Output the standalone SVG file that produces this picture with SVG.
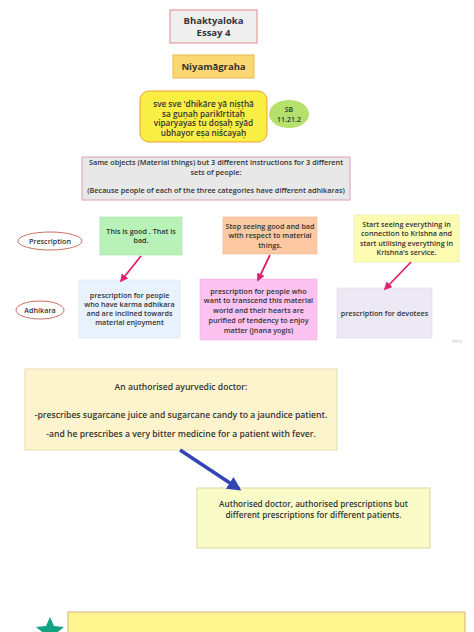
<svg xmlns="http://www.w3.org/2000/svg" width="474" height="632" viewBox="0 0 474 632">
<style>
text{font-family:"Open Sans","Liberation Sans",sans-serif;fill:#333;font-weight:600;text-anchor:middle}
.t9{font-size:9.5px;font-weight:700}
.tv{font-size:8.2px}
.td{font-size:8.6px}
.ta{font-size:8.2px}
.t7{font-size:7px}
.t65{font-size:7.2px}
.ts{font-size:7.3px}
</style>
<defs>
<marker id="pk" viewBox="0 0 10 10" refX="8" refY="5" markerWidth="4.5" markerHeight="4.5" orient="auto"><path d="M0,0L10,5L0,10z" fill="#e0206e"/></marker>
<marker id="bl" viewBox="0 0 10 10" refX="8" refY="5" markerWidth="4" markerHeight="4.5" orient="auto"><path d="M0,0L10,5L0,10z" fill="#3544b5"/></marker>
</defs>
<rect width="474" height="632" fill="#fff"/>
<g id="title"><rect x="170" y="10" width="87" height="33" fill="#efefef" stroke="#e08a8a"/>
<text class="t9" x="213.5" y="24">Bhaktyaloka</text><text class="t9" x="213.5" y="36">Essay 4</text></g>
<g id="niyamagraha"><rect x="173" y="55" width="81" height="23" fill="#fad770" stroke="#e8b850"/>
<text class="t9" x="213.5" y="70">Niyamāgraha</text></g>
<g id="verse"><rect x="140" y="91" width="127" height="51" rx="9" fill="#f8ee44" stroke="#f0a030"/>
<text class="tv" x="203.5" y="107">sve sve 'dhikāre yā niṣṭhā</text>
<text class="tv" x="203.5" y="116.5">sa guṇaḥ parikīrtitaḥ</text>
<text class="tv" x="203.5" y="126">viparyayas tu doṣaḥ syād</text>
<text class="tv" x="203.5" y="135.5">ubhayor eṣa niścayaḥ</text></g>
<g id="sb"><ellipse cx="289" cy="114" rx="20" ry="14" fill="#b6e06c"/>
<text class="t7" x="289" y="112">SB</text><text class="t7" x="289" y="121.5">11.21.2</text></g>
<g id="same"><rect x="82" y="157" width="268" height="43" fill="#e8e8e8" stroke="#d8a0bc"/>
<text class="ts" x="216" y="164.5">Same objects (Material things) but 3 different instructions for 3 different</text>
<text class="ts" x="216" y="174.5">sets of people:</text>
<text class="ts" x="216" y="192.5">(Because people of each of the three categories have  different adhikaras)</text></g>
<g id="prescription"><ellipse cx="50" cy="241" rx="32" ry="9" fill="#fff" stroke="#c87060"/>
<text class="t65" x="50" y="243.5">Prescription</text></g>
<g id="good"><rect x="100" y="217" width="82" height="38" fill="#b8f2b8" stroke="#a0dca0" stroke-width="0.6"/>
<text class="t65" x="141" y="233.5">This is good . That is</text><text class="t65" x="141" y="243">bad.</text></g>
<g id="stop"><rect x="223" y="217" width="94" height="37" fill="#fcc9a2" stroke="#ecb590" stroke-width="0.6"/>
<text class="t65" x="270" y="228.5">Stop seeing good and bad</text><text class="t65" x="270" y="238">with respect to material</text><text class="t65" x="270" y="247.5">things.</text></g>
<g id="start"><rect x="354" y="215" width="105" height="47" fill="#fcfcb2" stroke="#e8e8a0" stroke-width="0.6"/>
<text class="t65" x="406.5" y="226.5">Start seeing everything in</text><text class="t65" x="406.5" y="236">connection to Krishna and</text><text class="t65" x="406.5" y="245.5">start utilising everything in</text><text class="t65" x="406.5" y="255">Krishna's service.</text></g>
<g id="adhikara"><ellipse cx="40" cy="310" rx="24" ry="9" fill="#fff" stroke="#c87060"/>
<text class="t65" x="40" y="312.5">Adhikara</text></g>
<g id="karma"><rect x="79" y="280" width="101" height="58" fill="#e8f2fc" stroke="#d6e2ee" stroke-width="0.6"/>
<text class="t65" x="129.5" y="297.5">prescription for people</text><text class="t65" x="129.5" y="306.5">who have karma adhikara</text><text class="t65" x="129.5" y="315.5">and are inclined towards</text><text class="t65" x="129.5" y="324.5">material enjoyment</text></g>
<g id="jnana"><rect x="200" y="279" width="117" height="61" fill="#fcc2f0" stroke="#ecb0e0" stroke-width="0.6"/>
<text class="t65" x="258.5" y="293.5">prescription for people who</text><text class="t65" x="258.5" y="303.3">want to transcend this material</text><text class="t65" x="258.5" y="313">world and their hearts are</text><text class="t65" x="258.5" y="322.8">purified of tendency to enjoy</text><text class="t65" x="258.5" y="332.5">matter (jnana yogis)</text></g>
<g id="devotees"><rect x="337" y="288" width="95" height="50" fill="#ece8f4" stroke="#dcd8e6" stroke-width="0.6"/>
<text class="t65" x="384.5" y="315.5">prescription for devotees</text></g>
<text x="457" y="343" style="font-size:4.5px;fill:#bbb;font-weight:400">miro</text>
<g id="doctor"><rect x="25" y="369" width="312" height="81" fill="#fdf3cc" stroke="#e6dcb4"/>
<text class="td" x="181" y="390">An authorised ayurvedic doctor:</text>
<text class="td" x="181" y="418">-prescribes sugarcane juice and sugarcane candy to a jaundice patient.</text>
<text class="td" x="181" y="437">-and he prescribes a very bitter medicine for a patient with fever.</text></g>
<g id="authorised"><rect x="197" y="488" width="233" height="60" fill="#fafcc8" stroke="#d8d8a4"/>
<text class="ta" x="313.5" y="507">Authorised doctor, authorised prescriptions but</text>
<text class="ta" x="313.5" y="518">different prescriptions for different patients.</text></g>
<g id="bottom"><rect x="68" y="612" width="397" height="30" fill="#fff68f" stroke="#d8b080"/>
<polygon points="50,617 54,626 64,627 56.5,633 58.5,643 50,638 41.5,643 43.5,633 36,627 46,626" fill="#12a283"/></g>
<g id="connectors" fill="none">
<line x1="141" y1="256" x2="121" y2="281" stroke="#e0206e" stroke-width="1.8" marker-end="url(#pk)"/>
<line x1="270" y1="255" x2="258" y2="280" stroke="#e0206e" stroke-width="1.8" marker-end="url(#pk)"/>
<line x1="411" y1="262" x2="385" y2="289" stroke="#e0206e" stroke-width="1.8" marker-end="url(#pk)"/>
<line x1="180" y1="450" x2="239" y2="489" stroke="#3544b5" stroke-width="3.5" marker-end="url(#bl)"/>
</g>
</svg>
